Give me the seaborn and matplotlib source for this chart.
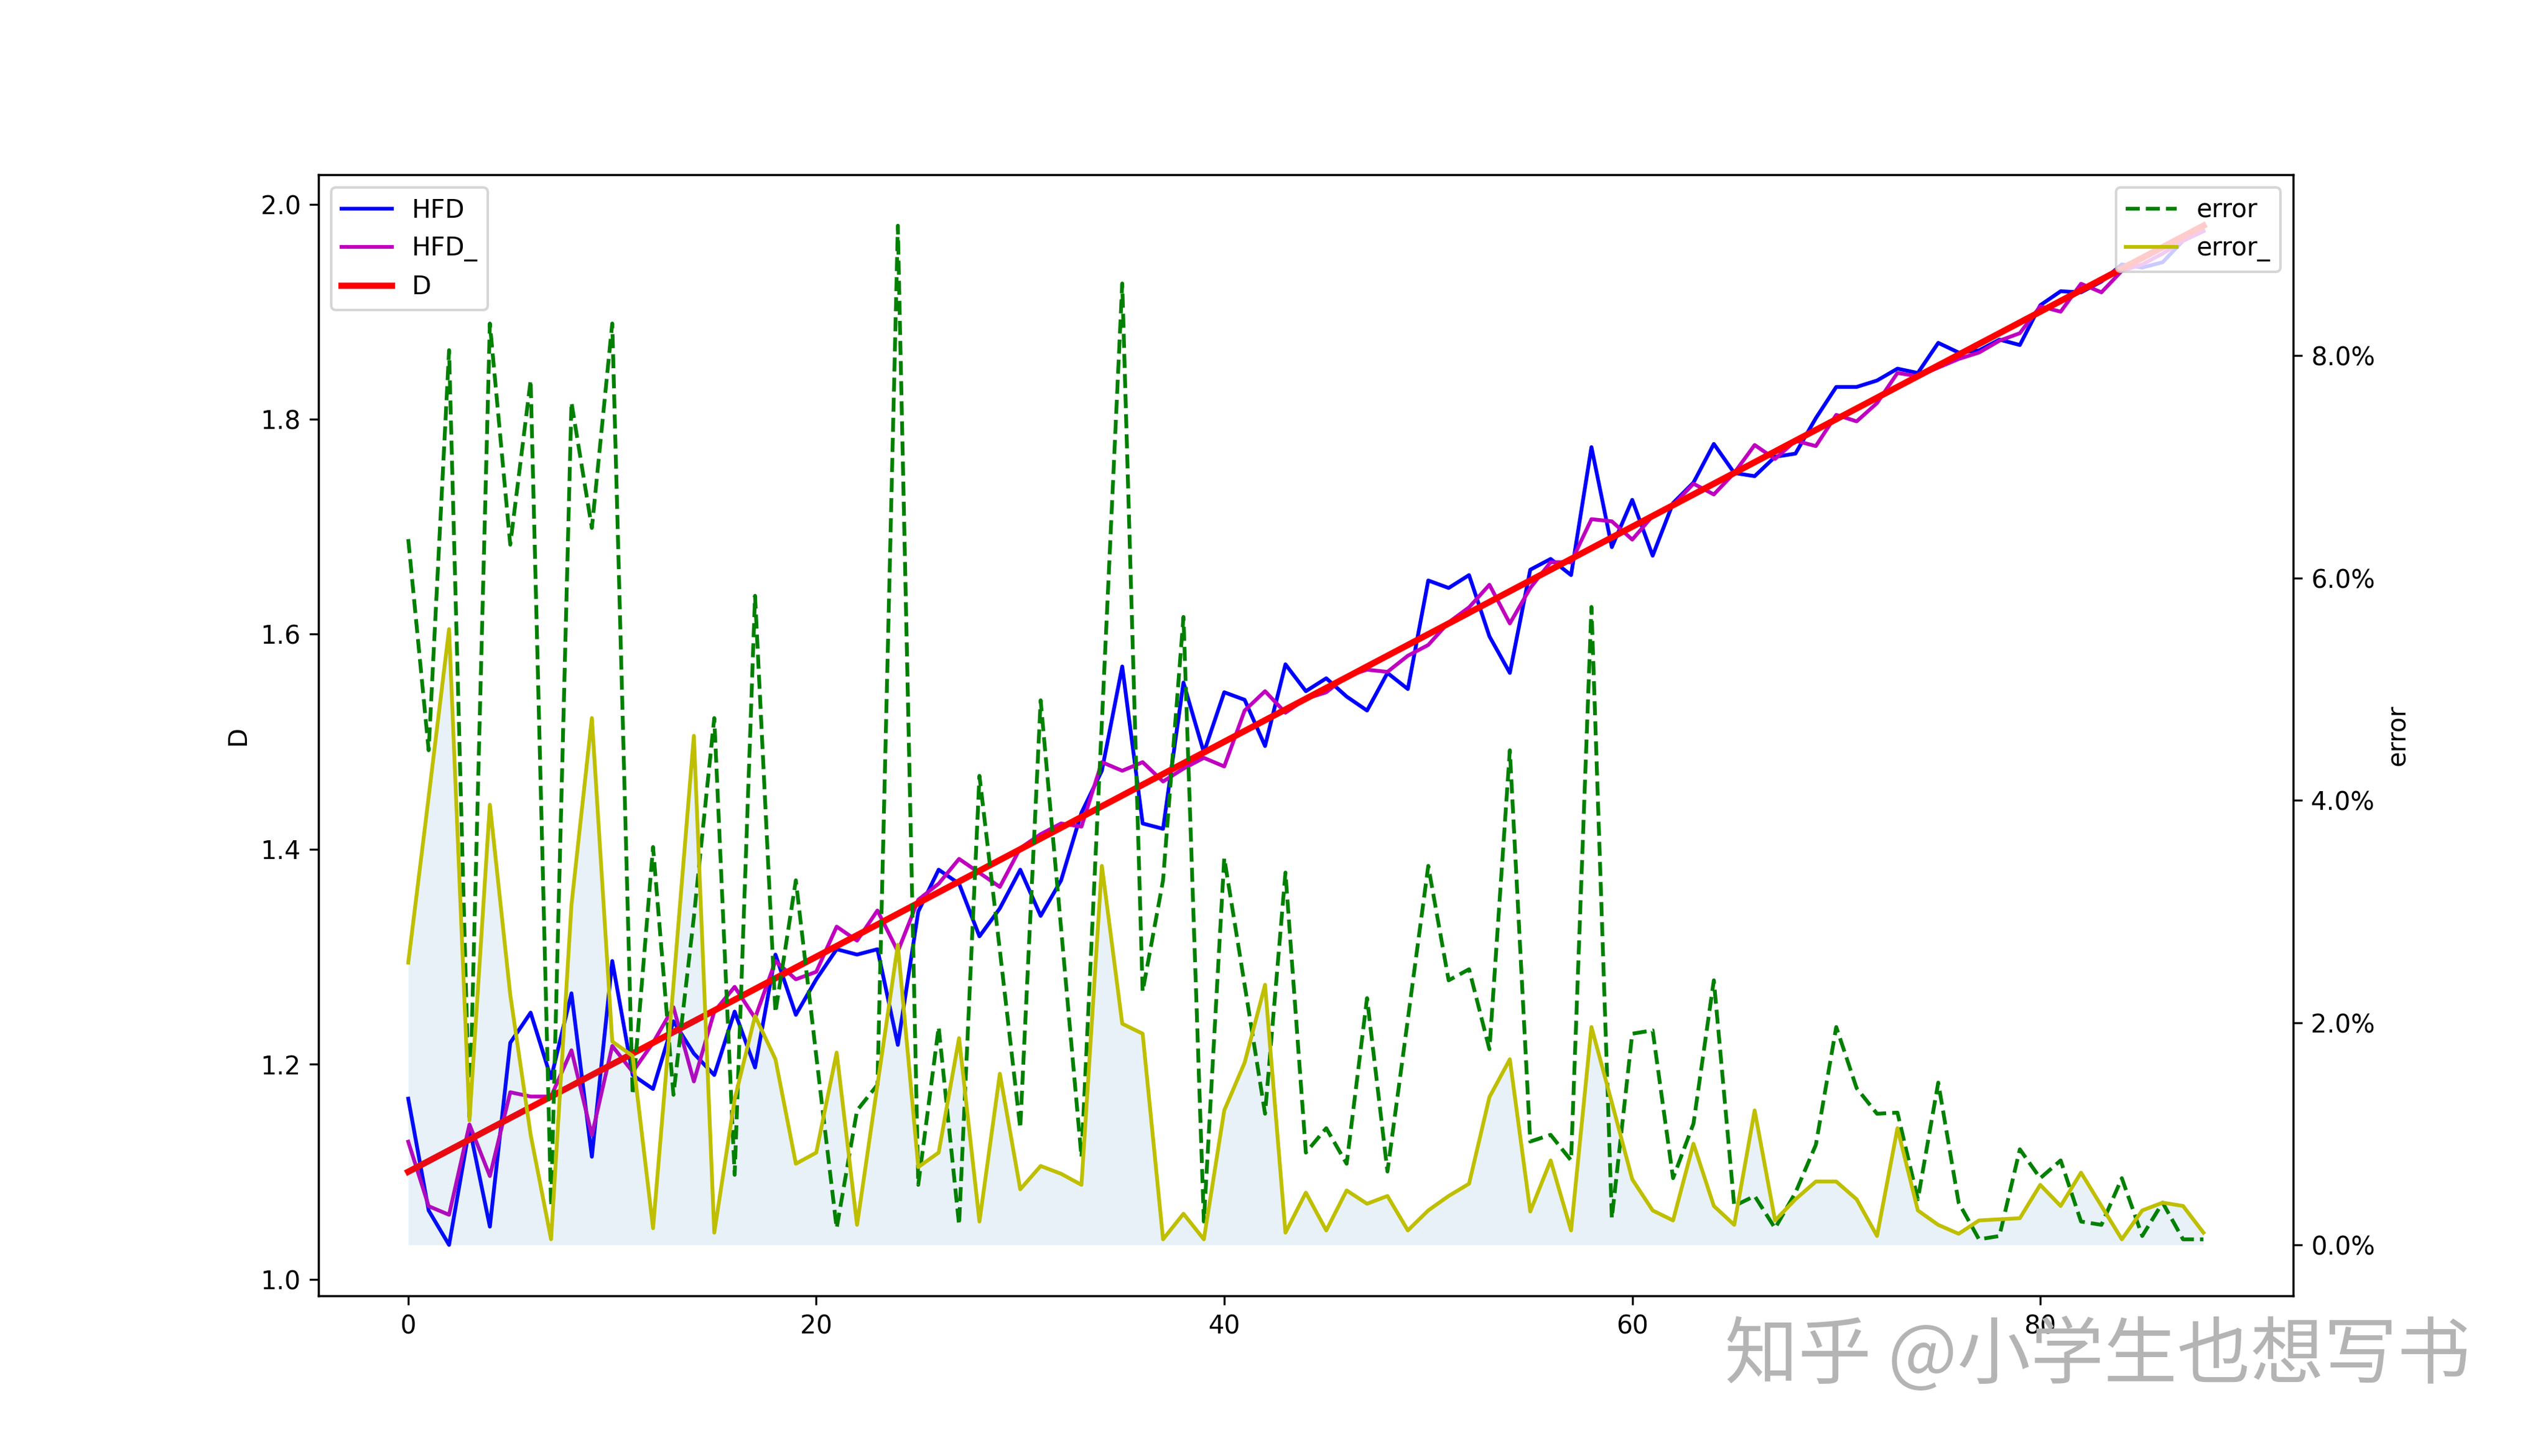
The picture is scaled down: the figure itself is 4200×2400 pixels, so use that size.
import matplotlib
matplotlib.use('Agg')
import matplotlib.pyplot as plt
import seaborn as sns
from matplotlib.ticker import PercentFormatter

# step index
steps = list(range(89))

# true D (straight line)
D = [1.10, 1.11, 1.12, 1.13, 1.14, 1.15, 1.16, 1.17, 1.18, 1.19,
     1.20, 1.21, 1.22, 1.23, 1.24, 1.25, 1.26, 1.27, 1.28, 1.29,
     1.30, 1.31, 1.32, 1.33, 1.34, 1.35, 1.36, 1.37, 1.38, 1.39,
     1.40, 1.41, 1.42, 1.43, 1.44, 1.45, 1.46, 1.47, 1.48, 1.49,
     1.50, 1.51, 1.52, 1.53, 1.54, 1.55, 1.56, 1.57, 1.58, 1.59,
     1.60, 1.61, 1.62, 1.63, 1.64, 1.65, 1.66, 1.67, 1.68, 1.69,
     1.70, 1.71, 1.72, 1.73, 1.74, 1.75, 1.76, 1.77, 1.78, 1.79,
     1.80, 1.81, 1.82, 1.83, 1.84, 1.85, 1.86, 1.87, 1.88, 1.89,
     1.90, 1.91, 1.92, 1.93, 1.94, 1.95, 1.96, 1.97, 1.98]

hfd = [1.168, 1.064, 1.032, 1.141, 1.049, 1.220, 1.248, 1.187, 1.266, 1.114,
       1.296, 1.190, 1.177, 1.240, 1.210, 1.190, 1.249, 1.197, 1.302, 1.246,
       1.279, 1.307, 1.302, 1.307, 1.218, 1.342, 1.381, 1.368, 1.319, 1.345,
       1.381, 1.338, 1.371, 1.434, 1.473, 1.570, 1.424, 1.419, 1.555, 1.490,
       1.546, 1.539, 1.496, 1.572, 1.547, 1.559, 1.542, 1.529, 1.564, 1.549,
       1.650, 1.643, 1.655, 1.598, 1.564, 1.660, 1.670, 1.655, 1.774, 1.681,
       1.725, 1.673, 1.722, 1.741, 1.777, 1.750, 1.747, 1.765, 1.768, 1.801,
       1.830, 1.830, 1.836, 1.847, 1.843, 1.871, 1.862, 1.864, 1.874, 1.869,
       1.906, 1.919, 1.918, 1.928, 1.944, 1.941, 1.946, 1.966, 1.975]

hfd_ = [1.128, 1.068, 1.060, 1.144, 1.096, 1.174, 1.170, 1.170, 1.213, 1.134,
        1.217, 1.193, 1.220, 1.253, 1.184, 1.249, 1.272, 1.243, 1.296, 1.279,
        1.286, 1.328, 1.315, 1.343, 1.305, 1.353, 1.368, 1.391, 1.378, 1.365,
        1.401, 1.414, 1.424, 1.421, 1.481, 1.473, 1.481, 1.463, 1.475, 1.485,
        1.477, 1.529, 1.547, 1.527, 1.540, 1.546, 1.561, 1.567, 1.565, 1.580,
        1.590, 1.611, 1.625, 1.646, 1.610, 1.643, 1.667, 1.667, 1.707, 1.705,
        1.688, 1.710, 1.720, 1.740, 1.730, 1.750, 1.776, 1.763, 1.780, 1.775,
        1.804, 1.798, 1.815, 1.843, 1.840, 1.848, 1.856, 1.862, 1.873, 1.880,
        1.905, 1.900, 1.926, 1.918, 1.938, 1.944, 1.954, 1.966, 1.975]

# relative errors, in percent
error = [6.35, 4.45, 8.05, 1.12, 8.29, 6.30, 7.78, 0.35, 7.58, 6.45,
         8.29, 1.35, 3.58, 1.35, 2.95, 4.74, 0.63, 5.84, 2.09, 3.28,
         1.70, 0.15, 1.21, 1.44, 9.17, 0.54, 1.96, 0.18, 4.22, 2.65,
         1.05, 4.90, 2.85, 0.79, 4.70, 8.65, 2.28, 3.28, 5.65, 0.21,
         3.48, 2.34, 1.18, 3.35, 0.83, 1.05, 0.73, 2.22, 0.66, 2.03,
         3.41, 2.38, 2.48, 1.76, 4.45, 0.93, 0.99, 0.76, 5.74, 0.24,
         1.90, 1.93, 0.60, 1.09, 2.38, 0.35, 0.44, 0.15, 0.47, 0.90,
         1.96, 1.41, 1.18, 1.19, 0.41, 1.46, 0.38, 0.05, 0.08, 0.86,
         0.60, 0.76, 0.21, 0.18, 0.60, 0.08, 0.38, 0.05, 0.05]

error_ = [2.54, 4.03, 5.54, 1.12, 3.96, 2.25, 0.99, 0.05, 3.06, 4.74,
          1.83, 1.70, 0.15, 2.34, 4.58, 0.11, 1.31, 2.06, 1.67, 0.73,
          0.83, 1.73, 0.18, 1.44, 2.70, 0.70, 0.83, 1.86, 0.21, 1.54,
          0.50, 0.71, 0.64, 0.54, 3.41, 1.99, 1.90, 0.05, 0.28, 0.05,
          1.21, 1.64, 2.34, 0.11, 0.47, 0.13, 0.49, 0.37, 0.44, 0.13,
          0.31, 0.44, 0.55, 1.33, 1.67, 0.30, 0.76, 0.13, 1.96, 1.28,
          0.59, 0.31, 0.22, 0.91, 0.35, 0.18, 1.21, 0.22, 0.41, 0.57,
          0.57, 0.41, 0.08, 1.05, 0.31, 0.18, 0.10, 0.22, 0.23, 0.24,
          0.54, 0.35, 0.65, 0.35, 0.05, 0.31, 0.38, 0.35, 0.11]

fig, ax = plt.subplots(figsize=(14, 8), dpi=300)

sns.lineplot(x=steps, y=hfd, ax=ax, color='b', linewidth=1.5, label='HFD')
sns.lineplot(x=steps, y=hfd_, ax=ax, color='m', linewidth=1.5, label='HFD_')
sns.lineplot(x=steps, y=D, ax=ax, color='r', linewidth=2.5, label='D')
ax.set_ylabel('D')
ax.set_xlabel('')
ax.legend(loc='upper left')

ax2 = ax.twinx()
ax2.fill_between(steps, 0, error_, color='C0', alpha=0.1, linewidth=0)
sns.lineplot(x=steps, y=error, ax=ax2, color='g', linewidth=1.5, linestyle='--', label='error')
sns.lineplot(x=steps, y=error_, ax=ax2, color='y', linewidth=1.5, label='error_')
ax2.set_ylabel('error')
ax2.yaxis.set_major_formatter(PercentFormatter(xmax=100, decimals=1))
ax2.set_yticks([0, 2, 4, 6, 8])
ax2.legend(loc='upper right')

# watermark
fig.text(0.677, 0.042, '知乎 @小学生也想写书', fontsize=29, color='#b4b4b4',
         family=['Noto Sans CJK SC', 'DejaVu Sans'], ha='left', va='bottom')

fig.savefig('out.png', dpi=300)
